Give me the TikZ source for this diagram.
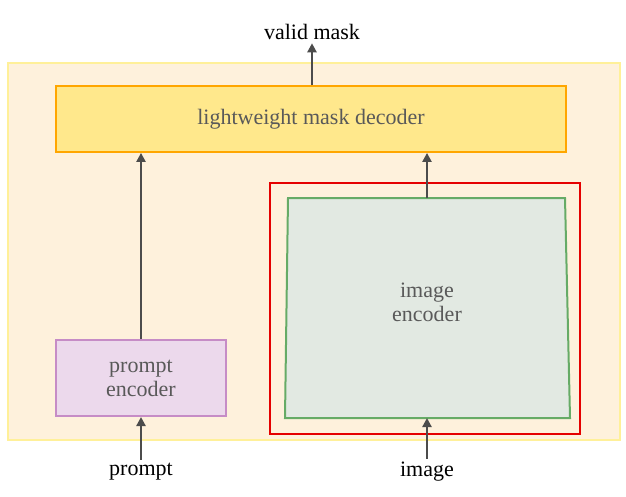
\documentclass[tikz,border=0pt]{standalone}
\usepackage{fontspec}
\setmainfont{Liberation Serif}
\usetikzlibrary{arrows.meta}
\begin{document}
\begin{tikzpicture}[x=1pt,y=-1pt,
  arr/.style={draw=black!70,line width=2.2pt,-{Triangle[length=9pt,width=9pt]}},
  inner/.style={text=black!65,font=\fontsize{22}{26}\selectfont,align=center},
  lbl/.style={text=black,font=\fontsize{22}{26}\selectfont}]
\useasboundingbox (0,0) rectangle (626,496);
\draw[fill=yellow!20!orange!12!white,draw=orange!30!yellow!40,line width=1.5pt] (8,63) rectangle (620,440);
\node[draw=orange!70!yellow,fill=orange!40!yellow!45,line width=1.8pt,minimum width=510pt,minimum height=66pt,inner] (dec) at (311,119) {lightweight mask decoder};
\draw[red!90!black,line width=2pt] (270,183) rectangle (580,434);
\draw[fill=green!40!black!6!green!15!white,fill=green!12!gray!20!white,draw=green!45!black!60!white,line width=2pt] (288,198) -- (565,198) -- (570,418) -- (285,418) -- cycle;
\coordinate (enct) at (427,198);
\coordinate (encb) at (427,418);
\node[inner] (enc) at (427,302) {image\\[-2pt]encoder};
\node[draw=violet!45!white,fill=violet!15!white,line width=2pt,minimum width=170pt,minimum height=76pt,inner] (pe) at (141,378) {prompt\\[-2pt]encoder};
\node[lbl] (prompt) at (141,472) {prompt};
\node[lbl] (image) at (427,472) {image};
\node[lbl] (valid) at (312,32) {valid mask};
\draw[arr] (prompt.north) -- (pe.south);
\draw[arr] (pe.north) -- (pe.north |- dec.south);
\draw[arr] (image.north) -- (encb);
\draw[arr] (enct) -- (enct |- dec.south);
\draw[arr] (dec.north -| valid) -- (valid.south);
\end{tikzpicture}
\end{document}
